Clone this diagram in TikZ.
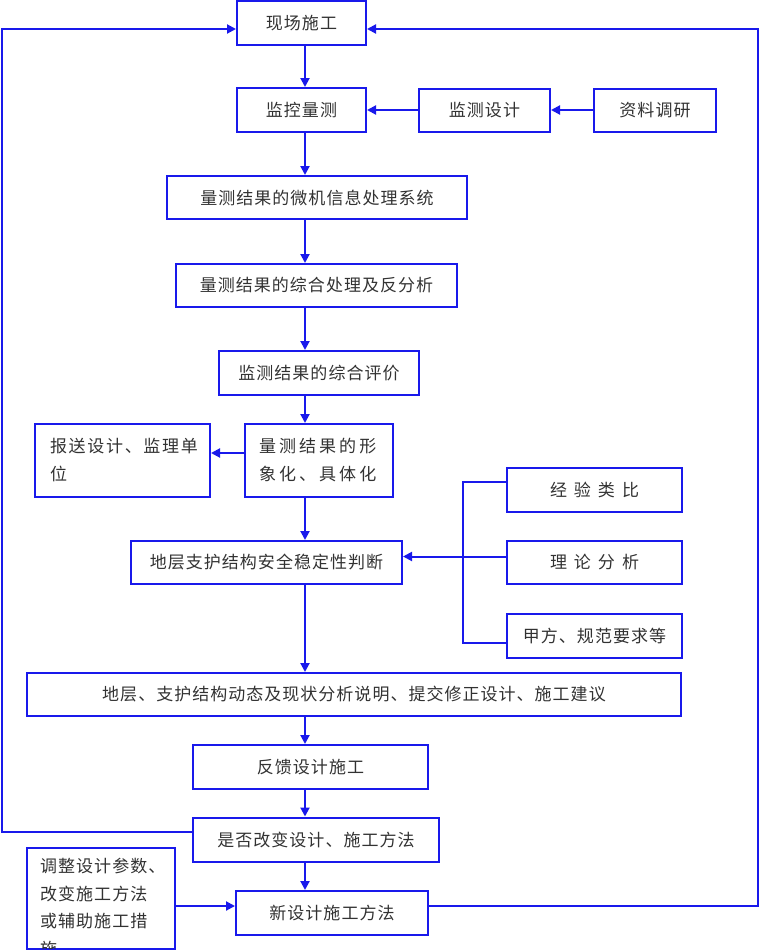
\documentclass[tikz,border=0pt]{standalone}
\usepackage{fontspec}
\usetikzlibrary{arrows.meta}
\newfontfamily\cjk[LetterSpace=6]{Noto Sans CJK SC}
\newfontfamily\cjkwide[LetterSpace=18]{Noto Sans CJK SC}
\newfontfamily\cjkmid[LetterSpace=10]{Noto Sans CJK SC}
\definecolor{bl}{RGB}{25,25,235}
\definecolor{tx}{RGB}{50,50,50}
\tikzset{
  box/.style={draw=bl, line width=2pt, inner sep=0pt, text=tx, font=\cjk\fontsize{17}{28}\selectfont},
  conn/.style={draw=bl, line width=2pt},
  arr/.style={conn, -{Triangle[length=9pt,width=9pt]}},
}
\begin{document}
\begin{tikzpicture}[x=1pt,y=-1pt]
\useasboundingbox (0,0) rectangle (760,950);
\coordinate (axis) at (305,0);
\coordinate (lx) at (2,0);
\coordinate (rx) at (758,0);
\coordinate (bx) at (463,0);

\node[box, minimum width=129, minimum height=44] (a) at (301.5,23) {现场施工};
\node[box, minimum width=129, minimum height=44] (b) at (301.5,110) {监控量测};
\node[box, minimum width=131, minimum height=43] (c) at (484.5,110) {监测设计};
\node[box, minimum width=122, minimum height=43] (d) at (655,110) {资料调研};
\node[box, minimum width=300, minimum height=43] (e) at (317,197.5) {量测结果的微机信息处理系统};
\node[box, minimum width=281, minimum height=43] (f) at (316.5,285.5) {量测结果的综合处理及反分析};
\node[box, minimum width=200, minimum height=44] (g) at (319,373) {监测结果的综合评价};
\node[box, minimum height=73, text width=120, inner xsep=14pt, align=left, font=\cjkwide\fontsize{17}{28}\selectfont] (h) at (319,460.5) {量测结果的形\\象化、具体化};
\node[box, minimum height=73, text width=145, inner xsep=15pt, align=left, font=\cjkmid\fontsize{17}{28}\selectfont] (i) at (122.5,460.5) {报送设计、监理单\\位};
\node[box, minimum width=271, minimum height=43] (j) at (266.5,562.5) {地层支护结构安全稳定性判断};
\node[box, minimum width=175, minimum height=44] (k) at (594.5,490) {经\hspace{7pt}验\hspace{7pt}类\hspace{7pt}比};
\node[box, minimum width=175, minimum height=43] (l) at (594.5,562.5) {理\hspace{7pt}论\hspace{7pt}分\hspace{7pt}析};
\node[box, minimum width=175, minimum height=44] (m) at (594.5,636) {甲方、规范要求等};
\node[box, minimum width=654, minimum height=43] (n) at (354,694.5) {地层、支护结构动态及现状分析说明、提交修正设计、施工建议};
\node[box, minimum width=235, minimum height=44] (o) at (310.5,767) {反馈设计施工};
\node[box, minimum width=246, minimum height=44] (p) at (316,839.5) {是否改变设计、施工方法};
\node[box, minimum width=192, minimum height=44] (q) at (332,913) {新设计施工方法};
\node[box, minimum width=148, minimum height=101] (r) at (101,898.5) {};
\begin{scope}
\clip ([xshift=1pt,yshift=-1pt]r.north west) rectangle ([xshift=-1pt,yshift=2pt]r.south east);
\node[text=tx, font=\cjk\fontsize{17}{27.5}\selectfont, align=left, inner sep=0pt, anchor=north west] (rt) at ([xshift=14pt,yshift=-11pt]r.north west) {调整设计参数、\\改变施工方法\\或辅助施工措\\施};
\end{scope}

% main vertical chain
\draw[arr] (a.south -| axis) -- (b.north -| axis);
\draw[arr] (b.south -| axis) -- (e.north -| axis);
\draw[arr] (e.south -| axis) -- (f.north -| axis);
\draw[arr] (f.south -| axis) -- (g.north -| axis);
\draw[arr] (g.south -| axis) -- (h.north -| axis);
\draw[arr] (h.south -| axis) -- (j.north -| axis);
\draw[arr] (j.south -| axis) -- (n.north -| axis);
\draw[arr] (n.south -| axis) -- (o.north -| axis);
\draw[arr] (o.south -| axis) -- (p.north -| axis);
\draw[arr] (p.south -| axis) -- (q.north -| axis);

% side arrows
\draw[arr] (c.west) -- (b.east);
\draw[arr] (d.west) -- (c.east);
\draw[arr] ([yshift=7.5pt]h.west) -- ([yshift=7.5pt]h.west -| i.east);
\draw[conn] ([yshift=8pt]k.west) -| ([yshift=-7pt]m.west -| bx) -- ([yshift=-7pt]m.west);
\draw[conn] ([yshift=6pt]l.west) -- ([yshift=6pt]l.west -| bx);
\draw[arr] ([yshift=6pt]l.west -| bx) -- ([yshift=6pt]l.west -| j.east);
\draw[arr] ([yshift=-7.5pt]r.east) -- ([yshift=-7.5pt]r.east -| q.west);

% feedback loops
\draw[arr] ([yshift=7.5pt]p.west) -| ([yshift=-6pt]a.west -| lx) -- ([yshift=-6pt]a.west);
\draw[arr] ([yshift=7pt]q.east) -| ([yshift=-6pt]a.east -| rx) -- ([yshift=-6pt]a.east);
\end{tikzpicture}
\end{document}
